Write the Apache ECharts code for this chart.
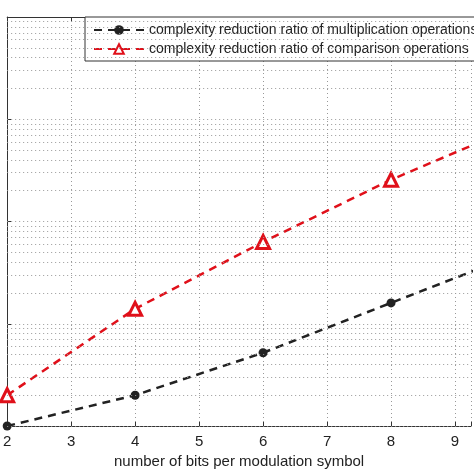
<!DOCTYPE html>
<html><head><meta charset="utf-8">
<script src="https://cdn.jsdelivr.net/npm/echarts@6/dist/echarts.min.js"></script>
<style>html,body{margin:0;padding:0;background:#fff}#c{width:474px;height:474px}</style>
</head><body><div id="c"></div>
<script>
const xValues = [2, 4, 6, 8, 10];
const multRatio = [1.0, 2.0, 5.2, 16, 49];
const compRatio = [2.0, 14, 63, 256, 870];
const xTicks = [2, 3, 4, 5, 6, 7, 8, 9];
const seriesNames = ['complexity reduction ratio of multiplication operations',
                     'complexity reduction ratio of comparison operations'];
const gridLogValues = [];
for (let k = 0; k < 4; k++) for (let m = 1; m <= 9; m++) gridLogValues.push(m * Math.pow(10, k));

const chart = echarts.init(document.getElementById('c'));
const font = 'Liberation Sans';
chart.setOption({
  animation: false,
  textStyle: {fontFamily: font},
  grid: {left: 5, right: -2, top: 17, bottom: 47},
  legend: {
    left: 85, top: 17, orient: 'vertical', itemGap: 5, itemWidth: 50, itemHeight: 12,
    backgroundColor: '#fff', borderColor: '#333', borderWidth: 1, padding: [6, 6, 5, 8],
    textStyle: {fontSize: 14, color: '#222', fontFamily: font},
    data: seriesNames
  },
  xAxis: [{
    type: 'value', min: 2, max: 9.25, interval: 1,
    axisLine: {lineStyle: {color: '#333'}}, axisTick: {inside: true, length: 4, lineStyle: {color: '#333'}},
    axisLabel: {fontSize: 15, color: '#222', margin: 8, formatter: v => xTicks.includes(v) ? String(v) : ''},
    splitLine: {show: true, lineStyle: {type: [1, 3], color: '#999'}},
    name: 'number of bits per modulation symbol', nameLocation: 'middle', nameGap: 28,
    nameTextStyle: {fontSize: 15, color: '#222'}
  }, {
    type: 'value', position: 'top', min: 2, max: 9.25, interval: 1,
    axisLine: {show: true, lineStyle: {color: '#333'}}, axisTick: {inside: true, length: 4, lineStyle: {color: '#333'}},
    axisLabel: {show: false}, splitLine: {show: false}
  }],
  yAxis: {
    type: 'log', min: 1, max: 10000, logBase: 10,
    axisLine: {show: true, lineStyle: {color: '#333'}}, axisTick: {inside: true, length: 4},
    axisLabel: {show: false}, splitLine: {show: false}
  },
  series: [{
    name: 'grid', type: 'line', data: [], silent: true,
    markLine: {silent: true, symbol: 'none', label: {show: false},
      lineStyle: {type: [1, 3], color: '#999', width: 1},
      data: gridLogValues.map(v => ({yAxis: v}))}
  }, {
    name: seriesNames[0], type: 'line', data: xValues.map((x, i) => [x, multRatio[i]]),
    lineStyle: {color: '#222', type: [8, 6], width: 2.5}, itemStyle: {color: '#222'},
    symbol: 'circle', symbolSize: 9, clip: true
  }, {
    name: seriesNames[1], type: 'line', data: xValues.map((x, i) => [x, compRatio[i]]),
    lineStyle: {color: '#e0101a', type: [8, 6], width: 2.5},
    itemStyle: {color: '#fff', borderColor: '#e0101a', borderWidth: 3},
    symbol: 'triangle', symbolSize: 13, clip: true
  }]
});
</script></body></html>
